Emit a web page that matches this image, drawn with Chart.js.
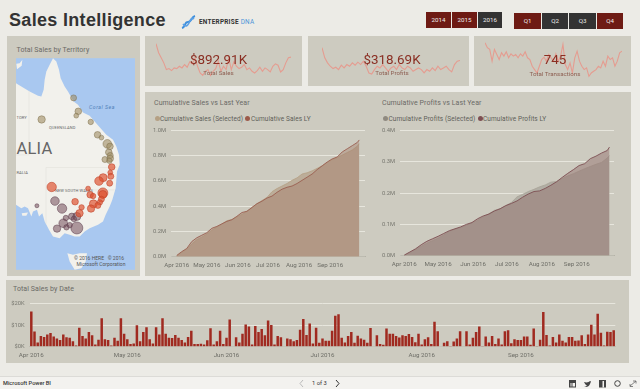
<!DOCTYPE html>
<html>
<head>
<meta charset="utf-8">
<title>Sales Intelligence</title>
<script src="https://cdn.jsdelivr.net/npm/chart.js"></script>
<style>
  html, body { margin: 0; padding: 0; }
  body { width: 640px; height: 389px; overflow: hidden; position: relative; background: #ecebe6; font-family: Roboto, sans-serif; }
  .abs, canvas, .panel, .btn { position: absolute; }
  .panel { background: #cdcbc0; }
  .ttl { position: absolute; font-size: 7px; color: #6a6a66; white-space: nowrap; letter-spacing: .08px; }
  .btn { color: #eee; font-size: 6.2px; text-align: center; line-height: 16px; height: 16px; }
  .red { background: #6e1b14; }
  .dark { background: #333; }
  .big { position: absolute; color: #8a2e22; font-size: 13.4px; text-align: center; white-space: nowrap; line-height: 16px; }
  .sub { position: absolute; color: #8d5f52; font-size: 6.2px; text-align: center; white-space: nowrap; line-height: 8px; }
  .leg { position: absolute; font-size: 6.5px; color: #5f5f5a; white-space: nowrap; letter-spacing: .08px; }
  .dot { position: absolute; width: 5px; height: 5px; border-radius: 50%; }
  .maptxt { position: absolute; color: #666; white-space: nowrap; font-size: 4px; letter-spacing: .1px; }
</style>
</head>
<body>

<!-- Header -->
<div class="abs" style="left:9px;top:10px;font:bold 18px 'Liberation Sans';letter-spacing:.32px;color:#333;white-space:nowrap">Sales Intelligence</div>
<svg class="abs" style="left:181px;top:14px" width="15" height="16" viewBox="0 0 15 16">
  <path d="M1 14 C5 13 3 8 7 8 C11 8 10 3 14 2" fill="none" stroke="#3f8fdc" stroke-width="2"/>
  <path d="M2 10 C5 14 7 11 8 9 C9 6 11 3 13 5" fill="none" stroke="#5aa0e6" stroke-width="1.6"/>
</svg>
<div class="abs" style="left:199px;top:18px;font:bold 6.4px Roboto;color:#333;white-space:nowrap;letter-spacing:.25px">ENTERPRISE <span style="color:#4a94d8;font-weight:normal">DNA</span></div>

<div class="btn red" style="left:426px;top:12px;width:25px">2014</div>
<div class="btn red" style="left:452px;top:12px;width:25px">2015</div>
<div class="btn dark" style="left:478px;top:12px;width:24px">2016</div>
<div class="btn red" style="left:514px;top:13px;width:27px">Q1</div>
<div class="btn dark" style="left:542px;top:13px;width:26px">Q2</div>
<div class="btn dark" style="left:569px;top:13px;width:27px">Q3</div>
<div class="btn red" style="left:597px;top:13px;width:26px">Q4</div>

<!-- Panels -->
<div class="panel" style="left:7px;top:36px;width:133px;height:240px"></div>
<div class="panel" style="left:145px;top:36px;width:157px;height:50px"></div>
<div class="panel" style="left:308px;top:36px;width:161px;height:50px"></div>
<div class="panel" style="left:474px;top:36px;width:157px;height:50px"></div>
<div class="panel" style="left:145px;top:92px;width:486px;height:184px"></div>
<div class="panel" style="left:6px;top:280px;width:623px;height:83px"></div>

<div class="ttl" style="left:16.5px;top:46px">Total Sales by Territory</div>
<div class="ttl" style="left:154px;top:99px">Cumulative Sales vs Last Year</div>
<div class="ttl" style="left:382px;top:99px">Cumulative Profits vs Last Year</div>
<div class="ttl" style="left:13px;top:285px">Total Sales by Date</div>

<!-- Map base -->
<svg class="abs" style="left:16.3px;top:58.3px" width="119" height="212" viewBox="49 55 357 635">
  <rect x="49" y="55" width="357" height="635" fill="#a9c8f0"/>
  <polygon fill="#f2f1ec" points="49,130 65,140 90,155 115,168 125,170 132,150 135,120 140,95 150,75 160,55 170,65 178,90 183,115 195,140 205,155 222,185 235,195 250,218 270,228 285,245 300,262 320,285 340,300 350,320 358,345 360,375 352,395 350,420 348,445 338,480 330,500 318,525 310,545 295,555 270,565 255,575 240,590 225,590 210,585 195,580 180,595 160,590 148,570 135,545 128,520 118,530 112,510 100,515 95,530 85,505 75,500 65,505 49,495"/>
  <polygon fill="#f2f1ec" points="203,640 220,645 240,640 262,640 258,665 245,685 225,690 210,665"/>
  <polygon fill="#f2f1ec" points="66,520 85,518 80,528 68,528"/>
  <polygon fill="#f2f1ec" points="50,72 60,70 68,60 66,78 52,88"/>
  <path d="M88 152 V345 M49 345 H88 M139 383 V552 M139 383 H350 M139 450 H345" fill="none" stroke="#dcdbd4" stroke-width="1.2"/>
</svg>
<div class="maptxt" style="left:16.5px;top:115px">TORY</div>
<div class="maptxt" style="left:49px;top:125px">QUEENSLAND</div>
<div class="abs" style="left:16.5px;top:139px;font:16.5px Roboto;color:#666;letter-spacing:.2px">ALIA</div>
<div class="maptxt" style="left:16.5px;top:170px">RALIA</div>
<div class="maptxt" style="left:55px;top:188px">NEW SOUTH WALES</div>
<div class="abs" style="left:89px;top:104px;font:italic 5.2px Roboto;color:#4f7fb8;letter-spacing:.5px">Coral Sea</div>
<div class="abs" style="left:74px;top:255px;font-size:5px;line-height:6px;color:#555;white-space:nowrap">© 2016 HERE &nbsp; © 2016<br>&nbsp;&nbsp;Microsoft Corporation</div>
<canvas id="mapChart" style="left:16.3px;top:58.3px" width="119" height="212"></canvas>

<!-- KPI sparklines -->
<canvas id="sparkSales" style="left:156px;top:41px" width="135" height="37"></canvas>
<canvas id="sparkProfits" style="left:322px;top:41px" width="138" height="37"></canvas>
<canvas id="sparkTrans" style="left:485px;top:41px" width="137" height="37"></canvas>
<div class="big" style="left:145px;width:147px;top:52px">$892.91K</div>
<div class="sub" style="left:145px;width:147px;top:69px">Total Sales</div>
<div class="big" style="left:308px;width:168px;top:52px">$318.69K</div>
<div class="sub" style="left:308px;width:168px;top:69px">Total Profits</div>
<div class="big" style="left:474px;width:162px;top:52px">745</div>
<div class="sub" style="left:474px;width:162px;top:70px">Total Transactions</div>

<!-- Cumulative charts -->
<span class="dot" style="left:154.5px;top:116px;background:#b5a084"></span>
<div class="leg" style="left:160px;top:114.5px">Cumulative Sales (Selected)</div>
<span class="dot" style="left:244.5px;top:116px;background:#9c5a4a"></span>
<div class="leg" style="left:251px;top:114.5px">Cumulative Sales LY</div>
<span class="dot" style="left:382.5px;top:116px;background:#8f8a80"></span>
<div class="leg" style="left:388.5px;top:114.5px">Cumulative Profits (Selected)</div>
<span class="dot" style="left:477.5px;top:116px;background:#7d4f52"></span>
<div class="leg" style="left:483px;top:114.5px">Cumulative Profits LY</div>
<canvas id="salesChart" style="left:145px;top:122px" width="225" height="153"></canvas>
<canvas id="profitsChart" style="left:375px;top:122px" width="244" height="153"></canvas>

<!-- Daily bars -->
<canvas id="dailyChart" style="left:6px;top:295px" width="614" height="68"></canvas>

<!-- Footer -->
<div class="abs" style="left:0;top:376px;width:640px;height:13px;background:#f3f2ef;border-top:1px solid #dcdbd7;box-sizing:border-box"></div>
<div class="abs" style="left:3px;top:380px;font:500 5.6px Roboto;color:#333">Microsoft Power BI</div>
<div class="abs" style="left:312px;top:380px;font:5.8px Roboto;color:#333">1 of 3</div>
<svg class="abs" style="left:0;top:376px" width="640" height="13">
  <path d="M303 4 L300 7.5 L303 11" fill="none" stroke="#bbb" stroke-width="1"/>
  <path d="M336 4 L339 7.5 L336 11" fill="none" stroke="#333" stroke-width="1"/>
  <rect x="569" y="4" width="7" height="7.5" fill="#444"/>
  <rect x="570.5" y="7" width="1" height="3.5" fill="#f3f2ef"/><rect x="572.5" y="7" width="2.5" height="3.5" fill="#f3f2ef"/>
  <path d="M584 6 C587 7 589 6 590 5 L591 5.5 L590 8 C589 11 586 11.5 584 10.5 C586 10.5 586.5 10 587 9.5 C585.5 9 585 8 584 6Z" fill="#444"/>
  <rect x="599" y="4" width="7" height="7.5" fill="#444"/>
  <rect x="602.5" y="5" width="1.5" height="6.5" fill="#f3f2ef"/>
  <circle cx="617.5" cy="7.5" r="2.8" fill="none" stroke="#444" stroke-width="1"/>
  <path d="M630 10 L636 5 M633 5 H636 V7.5 M630 8 V10.5 H633" fill="none" stroke="#666" stroke-width=".8"/>
</svg>

<script>
// --- Data ---

// Daily total sales, $K, 1 Apr to 30 Sep 2016
const dailySales = [
  16.3, 7.0, 2.0, 4.9, 4.5, 5.7, 6.3, 4.7, 3.8, 3.1, 5.6, 4.4, 4.1, 2.5, 0.6, 8.8, 4.9, 3.8, 6.8, 5.3,
  1.0, 3.2, 13.2, 3.4, 3.1, 0.6, 4.1, 2.8, 13.2, 6.0, 3.4, 1.2, 1.5, 9.9, 2.5, 6.8, 9.0, 3.4, 1.5, 9.0,
  5.7, 13.2, 6.0, 4.1, 4.0, 5.4, 4.1, 3.1, 2.0, 4.5, 7.4, 1.2, 1.2, 1.4, 1.0, 3.0, 8.5, 1.0, 2.5, 7.4,
  1.2, 4.1, 12.6, 0.2, 4.4, 2.0, 6.0, 10.3, 9.3, 1.0, 9.6, 6.8, 8.2, 5.3, 12.1, 10.0, 1.0, 4.9, 4.4, 0,
  3.8, 3.4, 2.5, 3.1, 7.9, 12.8, 5.4, 10.7, 1.5, 8.8, 1.8, 3.8, 2.8, 2.7, 7.4, 14.3, 15.0, 4.1, 2.0, 4.9,
  6.8, 1.8, 5.1, 3.8, 3.2, 1.8, 8.7, 0, 5.3, 1.3, 0.9, 8.4, 6.0, 6.0, 4.9, 4.3, 5.3, 4.9, 5.9, 4.5,
  2.1, 6.0, 1.0, 3.4, 4.4, 1.2, 11.6, 7.2, 0, 1.8, 2.5, 0.3, 2.4, 3.8, 7.2, 0.2, 7.2, 1.0, 4.1, 6.8,
  9.4, 0.3, 4.7, 2.0, 4.9, 1.2, 3.8, 1.0, 7.2, 7.6, 1.6, 3.5, 3.1, 3.1, 4.7, 4.7, 0.9, 8.4, 0.3, 3.2,
  16.0, 5.4, 0.6, 4.5, 2.0, 5.6, 2.8, 2.0, 4.5, 4.5, 2.8, 2.9, 5.3, 1.2, 5.6, 10.1, 5.6, 15.3, 6.5, 0.6,
  6.9, 6.8, 7.6
];
const dailyLabels = dailySales.map((_, i) => i);
const monthStarts = [0, 30, 61, 91, 122, 153];
const monthLabels = ["Apr 2016", "May 2016", "Jun 2016", "Jul 2016", "Aug 2016", "Sep 2016"];

// Cumulative series, sampled every 5 days
const cumDays = [0, 5, 10, 15, 20, 25, 30, 35, 40, 45, 50, 55, 60, 65, 70, 75, 80, 85, 90, 95, 100, 105, 110, 115, 120, 125, 130, 135, 140, 145, 150, 155, 160, 165, 170, 175, 180, 182];
const cumSalesSelected = [.005, .035, .06, .1, .135, .155, .18, .21, .235, .26, .285, .295, .315, .335, .36, .39, .42, .445, .47, .515, .54, .56, .58, .605, .625, .655, .665, .68, .7, .72, .745, .77, .785, .805, .825, .845, .875, .895];
const cumSalesLY = [.01, .04, .065, .12, .15, .17, .19, .225, .24, .26, .28, .293, .32, .35, .36, .39, .42, .44, .465, .48, .51, .535, .55, .56, .58, .605, .63, .655, .69, .72, .75, .775, .79, .83, .855, .88, .905, .925];
const cumProfitsSelected = [.001, .01, .02, .03, .04, .048, .056, .066, .078, .085, .09, .097, .105, .113, .124, .134, .145, .15, .16, .17, .188, .196, .205, .212, .22, .226, .235, .237, .246, .255, .262, .27, .278, .285, .292, .298, .312, .32];
const cumProfitsLY = [.002, .012, .022, .035, .046, .054, .062, .071, .08, .086, .092, .1, .106, .118, .127, .133, .143, .15, .16, .167, .175, .187, .197, .205, .207, .215, .225, .236, .25, .263, .275, .288, .294, .31, .318, .328, .336, .347];

// Sparklines, relative heights
const sparkSalesValues = [102, 75, 60, 45, 25, 28, 22, 30, 28, 35, 30, 40, 32, 48, 42, 60, 35, 15, 8, 20, 25, 7, 20, 28, 50, 20, 35, 25, 60, 25, 48, 35, 28, 32, 40, 25, 30, 20, 15, 22, 32, 20, 30, 25, 18, 35, 42, 38, 18, 25, 45, 60, 62];
const sparkProfitsValues = [90, 60, 45, 35, 28, 32, 25, 38, 30, 40, 35, 45, 38, 47, 40, 50, 35, 15, 12, 25, 35, 30, 40, 30, 20, 30, 35, 25, 40, 30, 25, 35, 30, 20, 25, 30, 25, 15, 25, 20, 30, 22, 35, 25, 30, 35, 25, 18, 40, 50, 52];
const sparkTransValues = [105, 90, 85, 50, 85, 70, 55, 75, 65, 78, 60, 72, 65, 70, 60, 72, 65, 78, 60, 55, 35, 25, 15, 35, 55, 62, 50, 70, 60, 50, 72, 50, 65, 100, 40, 25, 45, 15, 60, 80, 50, 35, 25, 30, 5, 15, 20, 25, 35, 30, 50, 35, 65, 55, 60, 35, 50, 75, 80];

// Territory bubbles: longitude, latitude, radius
const northLon = [144.22, 145.35, 144.86, 148.33, 136.57, 149.96, 150.88, 152.29, 152.93, 152.65, 153.0, 151.73, 153.0, 152.79];
const northLat = [-19.67, -21.55, -22.16, -23.04, -22.69, -24.84, -25.23, -26.11, -26.46, -27.29, -27.73, -28.30, -28.16, -28.47];
const northR = [3, 3.3, 2.4, 2.7, 3.7, 3.3, 2.4, 4.3, 3.3, 3.3, 3, 3, 3.3, 2.7];
const eastLon = [153.35, 153.0, 153.14, 152.86, 151.30, 150.31, 138.98, 147.69, 148.19, 148.89, 151.23, 151.23, 144.58, 150.88, 150.52, 148.96, 150.03, 148.40, 146.13, 145.64];
const eastLat = [-29.35, -30.13, -30.66, -31.62, -30.84, -31.32, -32.15, -32.37, -33.24, -33.42, -32.98, -33.20, -34.21, -33.86, -34.30, -34.51, -34.73, -35.17, -35.00, -35.83];
const eastR = [3.3, 2.4, 3, 3, 4, 4.3, 4.7, 2.4, 3.3, 2.7, 5, 4, 3.3, 3, 2.7, 4, 3, 3.7, 2.7, 3.7];
const southLon = [139.76, 135.44, 141.46, 143.80, 145.0, 142.38, 144.29, 141.74, 142.52, 143.30, 140.26, 145.0];
const southLat = [-34.12, -34.78, -35.17, -36.27, -36.27, -36.49, -36.62, -37.23, -37.8, -37.49, -37.98, -37.89];
const southR = [4.3, 2, 4.7, 3.3, 4, 2.7, 2.7, 4.3, 2.7, 2.7, 3.7, 6];

// --- Chart setup ---
Chart.defaults.font.family = 'Roboto, sans-serif';
Chart.defaults.animation = false;
Chart.defaults.responsive = false;
Chart.defaults.plugins.legend.display = false;
Chart.defaults.plugins.tooltip.enabled = false;

const PANEL_COLOR = "#cdcbc0";

const points = (xs, ys) => xs.map((x, i) => ({ x: x, y: ys[i] }));
const bubbles = (xs, ys, rs) => xs.map((x, i) => ({ x: x, y: ys[i], r: rs[i] }));

new Chart(document.getElementById("mapChart"), {
  type: "bubble",
  data: {
    datasets: [
      { data: bubbles(northLon, northLat, northR), backgroundColor: "rgba(160,142,100,.6)", borderColor: "rgba(125,110,75,.7)", borderWidth: 0.7 },
      { data: bubbles(eastLon, eastLat, eastR), backgroundColor: "rgba(222,80,45,.68)", borderColor: "rgba(190,65,40,.8)", borderWidth: 0.7 },
      { data: bubbles(southLon, southLat, southR), backgroundColor: "rgba(115,75,90,.55)", borderColor: "rgba(90,60,75,.75)", borderWidth: 0.7 },
    ],
  },
  options: {
    layout: { padding: 0 },
    scales: {
      x: { type: "linear", display: false, min: 132.04, max: 157.32 },
      y: { type: "linear", display: false, min: -42.84, max: -15.02 },
    },
  },
});

function sparkline(id, values, max) {
  new Chart(document.getElementById(id), {
    type: "line",
    data: {
      labels: values.map((_, i) => i),
      datasets: [{ data: values, borderColor: "#e59c90", borderWidth: 1.1, pointRadius: 0, tension: 0 }],
    },
    options: {
      layout: { padding: 0 },
      scales: {
        x: { display: false, offset: false },
        y: { display: false, min: 0, max: max },
      },
    },
  });
}
sparkline("sparkSales", sparkSalesValues, 110);
sparkline("sparkProfits", sparkProfitsValues, 110);
sparkline("sparkTrans", sparkTransValues, 110);

function cumulativeChart(id, selected, lastYear, opts) {
  // panel-coloured layer under the two areas, keeps the gridlines from showing through
  const cover = selected.map((v, i) => Math.max(v, lastYear[i]));
  new Chart(document.getElementById(id), {
    type: "line",
    data: {
      // first dataset is painted last
      datasets: [
        {
          data: points(cumDays, lastYear),
          borderColor: opts.lyLine,
          backgroundColor: opts.lyFill,
          borderWidth: 0.9,
          pointRadius: 0,
          fill: "origin",
        },
        {
          data: points(cumDays, selected),
          borderColor: opts.selLine,
          backgroundColor: opts.selFill,
          borderWidth: 0.8,
          pointRadius: 0,
          fill: "origin",
        },
        {
          data: points(cumDays, cover),
          borderWidth: 0,
          backgroundColor: PANEL_COLOR,
          pointRadius: 0,
          fill: "origin",
        },
      ],
    },
    options: {
      layout: { padding: { top: 7.3, right: 5, left: 0, bottom: 0 } },
      scales: {
        x: {
          type: "linear",
          min: opts.xMin,
          max: opts.xMax,
          afterBuildTicks: (s) => { s.ticks = monthStarts.map((v) => ({ value: v })); },
          afterFit: (s) => { s.height = opts.axisH; },
          grid: { display: false, drawTicks: false },
          border: { color: "#a9a79c", width: 0.7 },
          ticks: {
            color: "#6d6d66",
            font: { size: 6.2 },
            padding: 5,
            maxRotation: 0,
            autoSkip: false,
            callback: (v) => monthLabels[monthStarts.indexOf(v)],
          },
        },
        y: {
          min: 0,
          max: opts.yMax,
          afterFit: (s) => { s.width = opts.axisW; },
          grid: { color: "#e7e6dd", lineWidth: 1, drawTicks: false },
          border: { display: false },
          ticks: {
            stepSize: opts.step,
            color: "#77776f",
            font: { size: 5.8 },
            padding: 5,
            callback: (v) => v.toFixed(1) + "M",
          },
        },
      },
    },
  });
}

cumulativeChart("salesChart", cumSalesSelected, cumSalesLY, {
  selLine: "#b5a084", selFill: "rgba(175,150,120,.55)",
  lyLine: "#9a5f50", lyFill: "rgba(165,125,105,.42)",
  xMin: -5.7, xMax: 187.7, yMax: 1, step: 0.2, axisH: 18.3, axisW: 26,
});
cumulativeChart("profitsChart", cumProfitsSelected, cumProfitsLY, {
  selLine: "#a8a398", selFill: "rgba(150,145,135,.5)",
  lyLine: "#7d4f52", lyFill: "rgba(150,115,112,.5)",
  xMin: -3.8, xMax: 186, yMax: 0.4, step: 0.1, axisH: 19.3, axisW: 25,
});

new Chart(document.getElementById("dailyChart"), {
  type: "bar",
  data: {
    labels: dailyLabels,
    datasets: [{
      data: dailySales,
      backgroundColor: "#a02a20",
      categoryPercentage: 1,
      barPercentage: 0.78,
    }],
  },
  options: {
    layout: { padding: { top: 6.7, right: 4.7, left: 0, bottom: 0 } },
    scales: {
      x: {
        afterFit: (s) => { s.height = 16.3; },
        grid: { display: false, drawTicks: false },
        border: { color: "#b3b1a6", width: 0.7 },
        ticks: {
          color: "#6d6d66",
          font: { size: 6.2 },
          padding: 5,
          maxRotation: 0,
          autoSkip: false,
          callback: (v) => { const k = monthStarts.indexOf(v); return k < 0 ? "" : monthLabels[k]; },
        },
      },
      y: {
        min: 0,
        max: 20,
        afterFit: (s) => { s.width = 23.7; },
        grid: { color: "#e7e6dd", lineWidth: 1, drawTicks: false },
        border: { display: false },
        ticks: {
          stepSize: 10,
          color: "#77776f",
          font: { size: 5.8 },
          padding: 5,
          callback: (v) => "$" + v + "K",
        },
      },
    },
  },
});
</script>
</body>
</html>
